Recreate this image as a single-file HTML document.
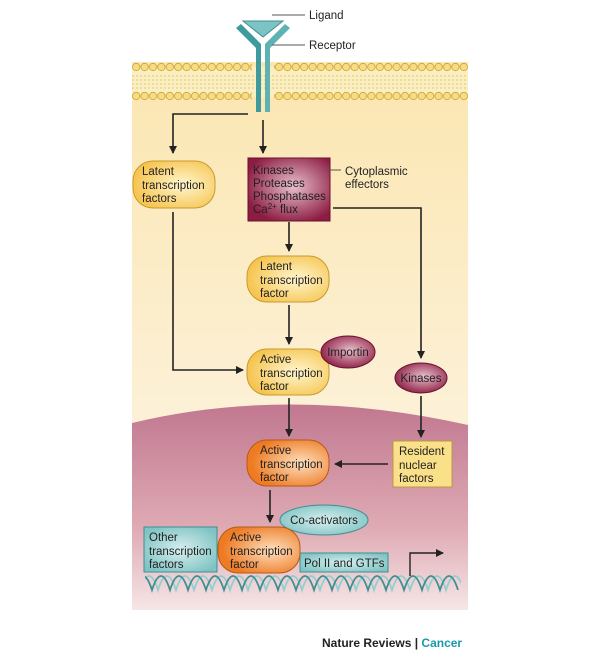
<!DOCTYPE html>
<html><head><meta charset="utf-8"><style>
html,body{margin:0;padding:0;background:#fff}
svg{display:block}
text{font-family:"Liberation Sans",sans-serif;font-size:11.5px;fill:#222}
</style></head><body>
<svg width="600" height="657" viewBox="0 0 600 657" xmlns="http://www.w3.org/2000/svg">
<defs>
<linearGradient id="cyto" x1="0" y1="0" x2="0" y2="1"><stop offset="0" stop-color="#fbe6b0"/><stop offset="1" stop-color="#fdf6ec"/></linearGradient>
<linearGradient id="nuc" x1="0" y1="0" x2="0" y2="1"><stop offset="0" stop-color="#c17890"/><stop offset="0.6" stop-color="#dfaab4"/><stop offset="1" stop-color="#f6e6e6"/></linearGradient>
<radialGradient id="yel" cx="0.6" cy="0.5" r="0.6"><stop offset="0" stop-color="#fff6d0"/><stop offset="1" stop-color="#f6c550"/></radialGradient>
<radialGradient id="org" cx="0.65" cy="0.5" r="0.6"><stop offset="0" stop-color="#fde0c0"/><stop offset="1" stop-color="#ee7a22"/></radialGradient>
<radialGradient id="mar" cx="0.55" cy="0.45" r="0.6"><stop offset="0" stop-color="#e8c0cc"/><stop offset="1" stop-color="#8c1c42"/></radialGradient>
<radialGradient id="teal" cx="0.5" cy="0.5" r="0.6"><stop offset="0" stop-color="#d8efef"/><stop offset="1" stop-color="#7fc3c3"/></radialGradient>
<marker id="ah" markerWidth="8" markerHeight="8" refX="7" refY="4" orient="auto" markerUnits="userSpaceOnUse"><path d="M0,0 L8,4 L0,8 Z" fill="#222"/></marker>
<pattern id="beads" x="132" y="62.5" width="8.4" height="9" patternUnits="userSpaceOnUse">
<circle cx="4.2" cy="4.5" r="3.7" fill="#f8dc80" stroke="#c9a23a" stroke-width="0.8"/>
</pattern>
<pattern id="beads2" x="132" y="91.5" width="8.4" height="9" patternUnits="userSpaceOnUse">
<circle cx="4.2" cy="4.5" r="3.7" fill="#f8dc80" stroke="#c9a23a" stroke-width="0.8"/>
</pattern>
<clipPath id="dnaclip"><rect x="145" y="560" width="316" height="40"/></clipPath>
</defs>
<rect x="132" y="62" width="336" height="548" fill="url(#cyto)"/>
<path d="M132,423 Q290,385 468,425 L468,610 L132,610 Z" fill="url(#nuc)"/>
<!-- membrane -->
<rect x="132" y="67" width="336" height="30" fill="#fbeec0"/>
<g stroke="#d8b860" stroke-width="0.8" fill="none">
<path d="M132,76 H468 M132,80 H468 M132,84 H468 M132,88 H468" stroke-dasharray="2 2"/>
</g>
<rect x="132" y="62.5" width="120" height="9" fill="url(#beads)"/>
<rect x="274" y="62.5" width="194" height="9" fill="url(#beads)"/>
<rect x="132" y="91.5" width="120" height="9" fill="url(#beads2)"/>
<rect x="274" y="91.5" width="194" height="9" fill="url(#beads2)"/>
<!-- receptor -->
<path d="M236,28 L241,24 L261,44 L261,112 L256,112 L256,48 Z" fill="#3e9a9c"/>
<path d="M290,28 L285,24 L265,44 L265,112 L270,112 L270,48 Z" fill="#5fb2b3"/>
<path d="M243,21 L283,21 L263,37 Z" fill="#7cc4c4" stroke="#3f8f92"/>
<line x1="272" y1="15" x2="305" y2="15" stroke="#555"/>
<text x="309" y="19">Ligand</text>
<line x1="272" y1="45" x2="305" y2="45" stroke="#555"/>
<text x="309" y="49">Receptor</text>
<!-- arrows -->
<g stroke="#222" stroke-width="1.6" fill="none">
<path d="M248,114 H173 V153" marker-end="url(#ah)"/>
<path d="M263,120 V153" marker-end="url(#ah)"/>
<path d="M333,208 H421 V358" marker-end="url(#ah)"/>
<path d="M289,222 V251" marker-end="url(#ah)"/>
<path d="M289,305 V344" marker-end="url(#ah)"/>
<path d="M173,212 V370 H243" marker-end="url(#ah)"/>
<path d="M289,398 V436" marker-end="url(#ah)"/>
<path d="M421,396 V437" marker-end="url(#ah)"/>
<path d="M388,464 H335" marker-end="url(#ah)"/>
<path d="M270,490 V522" marker-end="url(#ah)"/>
</g>
<!-- nodes -->
<rect x="133" y="161" width="82" height="47" rx="20" fill="url(#yel)" stroke="#c89a30"/>
<text x="142" y="175">Latent</text><text x="142" y="189">transcription</text><text x="142" y="202">factors</text>
<rect x="248" y="158" width="82" height="63" fill="url(#mar)" stroke="#6a1030"/>
<text x="253" y="174">Kinases</text><text x="253" y="187">Proteases</text><text x="253" y="200">Phosphatases</text><text x="253" y="213">Ca<tspan dy="-4" font-size="8">2+</tspan><tspan dy="4"> flux</tspan></text>
<line x1="326" y1="170" x2="341" y2="170" stroke="#555"/>
<text x="345" y="175">Cytoplasmic</text><text x="345" y="188">effectors</text>
<rect x="247" y="256" width="82" height="46" rx="20" fill="url(#yel)" stroke="#c89a30"/>
<text x="260" y="270">Latent</text><text x="260" y="284">transcription</text><text x="260" y="297">factor</text>
<rect x="247" y="349" width="82" height="46" rx="20" fill="url(#yel)" stroke="#c89a30"/>
<text x="260" y="363">Active</text><text x="260" y="377">transcription</text><text x="260" y="390">factor</text>
<ellipse cx="348" cy="352" rx="27" ry="16" fill="url(#mar)" stroke="#6a1030"/>
<text x="348" y="356" text-anchor="middle">Importin</text>
<ellipse cx="421" cy="378" rx="26" ry="15" fill="url(#mar)" stroke="#6a1030"/>
<text x="421" y="382" text-anchor="middle">Kinases</text>
<rect x="247" y="440" width="82" height="46" rx="20" fill="url(#org)" stroke="#b55a18"/>
<text x="260" y="454">Active</text><text x="260" y="468">transcription</text><text x="260" y="481">factor</text>
<rect x="393" y="441" width="59" height="46" fill="#fbe08a" stroke="#b89a40"/>
<text x="399" y="455">Resident</text><text x="399" y="469">nuclear</text><text x="399" y="482">factors</text>
<ellipse cx="324" cy="520" rx="44" ry="15" fill="url(#teal)" stroke="#3f8f92"/>
<text x="324" y="524" text-anchor="middle">Co-activators</text>
<!-- DNA -->
<g fill="none" stroke-width="1.8" clip-path="url(#dnaclip)">
<path d="M140,590 q4.5,-14 9,-14 q4.5,0 9,14 q4.5,-14 9,-14 q4.5,0 9,14 q4.5,-14 9,-14 q4.5,0 9,14 q4.5,-14 9,-14 q4.5,0 9,14 q4.5,-14 9,-14 q4.5,0 9,14 q4.5,-14 9,-14 q4.5,0 9,14 q4.5,-14 9,-14 q4.5,0 9,14 q4.5,-14 9,-14 q4.5,0 9,14 q4.5,-14 9,-14 q4.5,0 9,14 q4.5,-14 9,-14 q4.5,0 9,14 q4.5,-14 9,-14 q4.5,0 9,14 q4.5,-14 9,-14 q4.5,0 9,14 q4.5,-14 9,-14 q4.5,0 9,14 q4.5,-14 9,-14 q4.5,0 9,14 q4.5,-14 9,-14 q4.5,0 9,14 q4.5,-14 9,-14 q4.5,0 9,14 q4.5,-14 9,-14 q4.5,0 9,14 q4.5,-14 9,-14 q4.5,0 9,14" stroke="#8fcfcf"/>
<path d="M134,590 q4.5,-14 9,-14 q4.5,0 9,14 q4.5,-14 9,-14 q4.5,0 9,14 q4.5,-14 9,-14 q4.5,0 9,14 q4.5,-14 9,-14 q4.5,0 9,14 q4.5,-14 9,-14 q4.5,0 9,14 q4.5,-14 9,-14 q4.5,0 9,14 q4.5,-14 9,-14 q4.5,0 9,14 q4.5,-14 9,-14 q4.5,0 9,14 q4.5,-14 9,-14 q4.5,0 9,14 q4.5,-14 9,-14 q4.5,0 9,14 q4.5,-14 9,-14 q4.5,0 9,14 q4.5,-14 9,-14 q4.5,0 9,14 q4.5,-14 9,-14 q4.5,0 9,14 q4.5,-14 9,-14 q4.5,0 9,14 q4.5,-14 9,-14 q4.5,0 9,14 q4.5,-14 9,-14 q4.5,0 9,14 q4.5,-14 9,-14 q4.5,0 9,14 q4.5,-14 9,-14 q4.5,0 9,14" stroke="#3f8f92"/>
</g>
<rect x="144" y="527" width="73" height="45" fill="url(#teal)" stroke="#3f8f92"/>
<text x="149" y="541">Other</text><text x="149" y="555">transcription</text><text x="149" y="568">factors</text>
<rect x="300" y="553" width="88" height="19" fill="url(#teal)" stroke="#3f8f92"/>
<text x="304" y="567">Pol II and GTFs</text>
<rect x="218" y="527" width="82" height="46" rx="20" fill="url(#org)" stroke="#b55a18"/>
<text x="230" y="541">Active</text><text x="230" y="555">transcription</text><text x="230" y="568">factor</text>
<path d="M410,576 V553 H443" stroke="#222" stroke-width="1.4" fill="none" marker-end="url(#ah)"/>
<text x="322" y="647" style="font-weight:bold;font-size:12px">Nature Reviews | <tspan style="fill:#1a9aa8">Cancer</tspan></text>
</svg>
</body></html>
